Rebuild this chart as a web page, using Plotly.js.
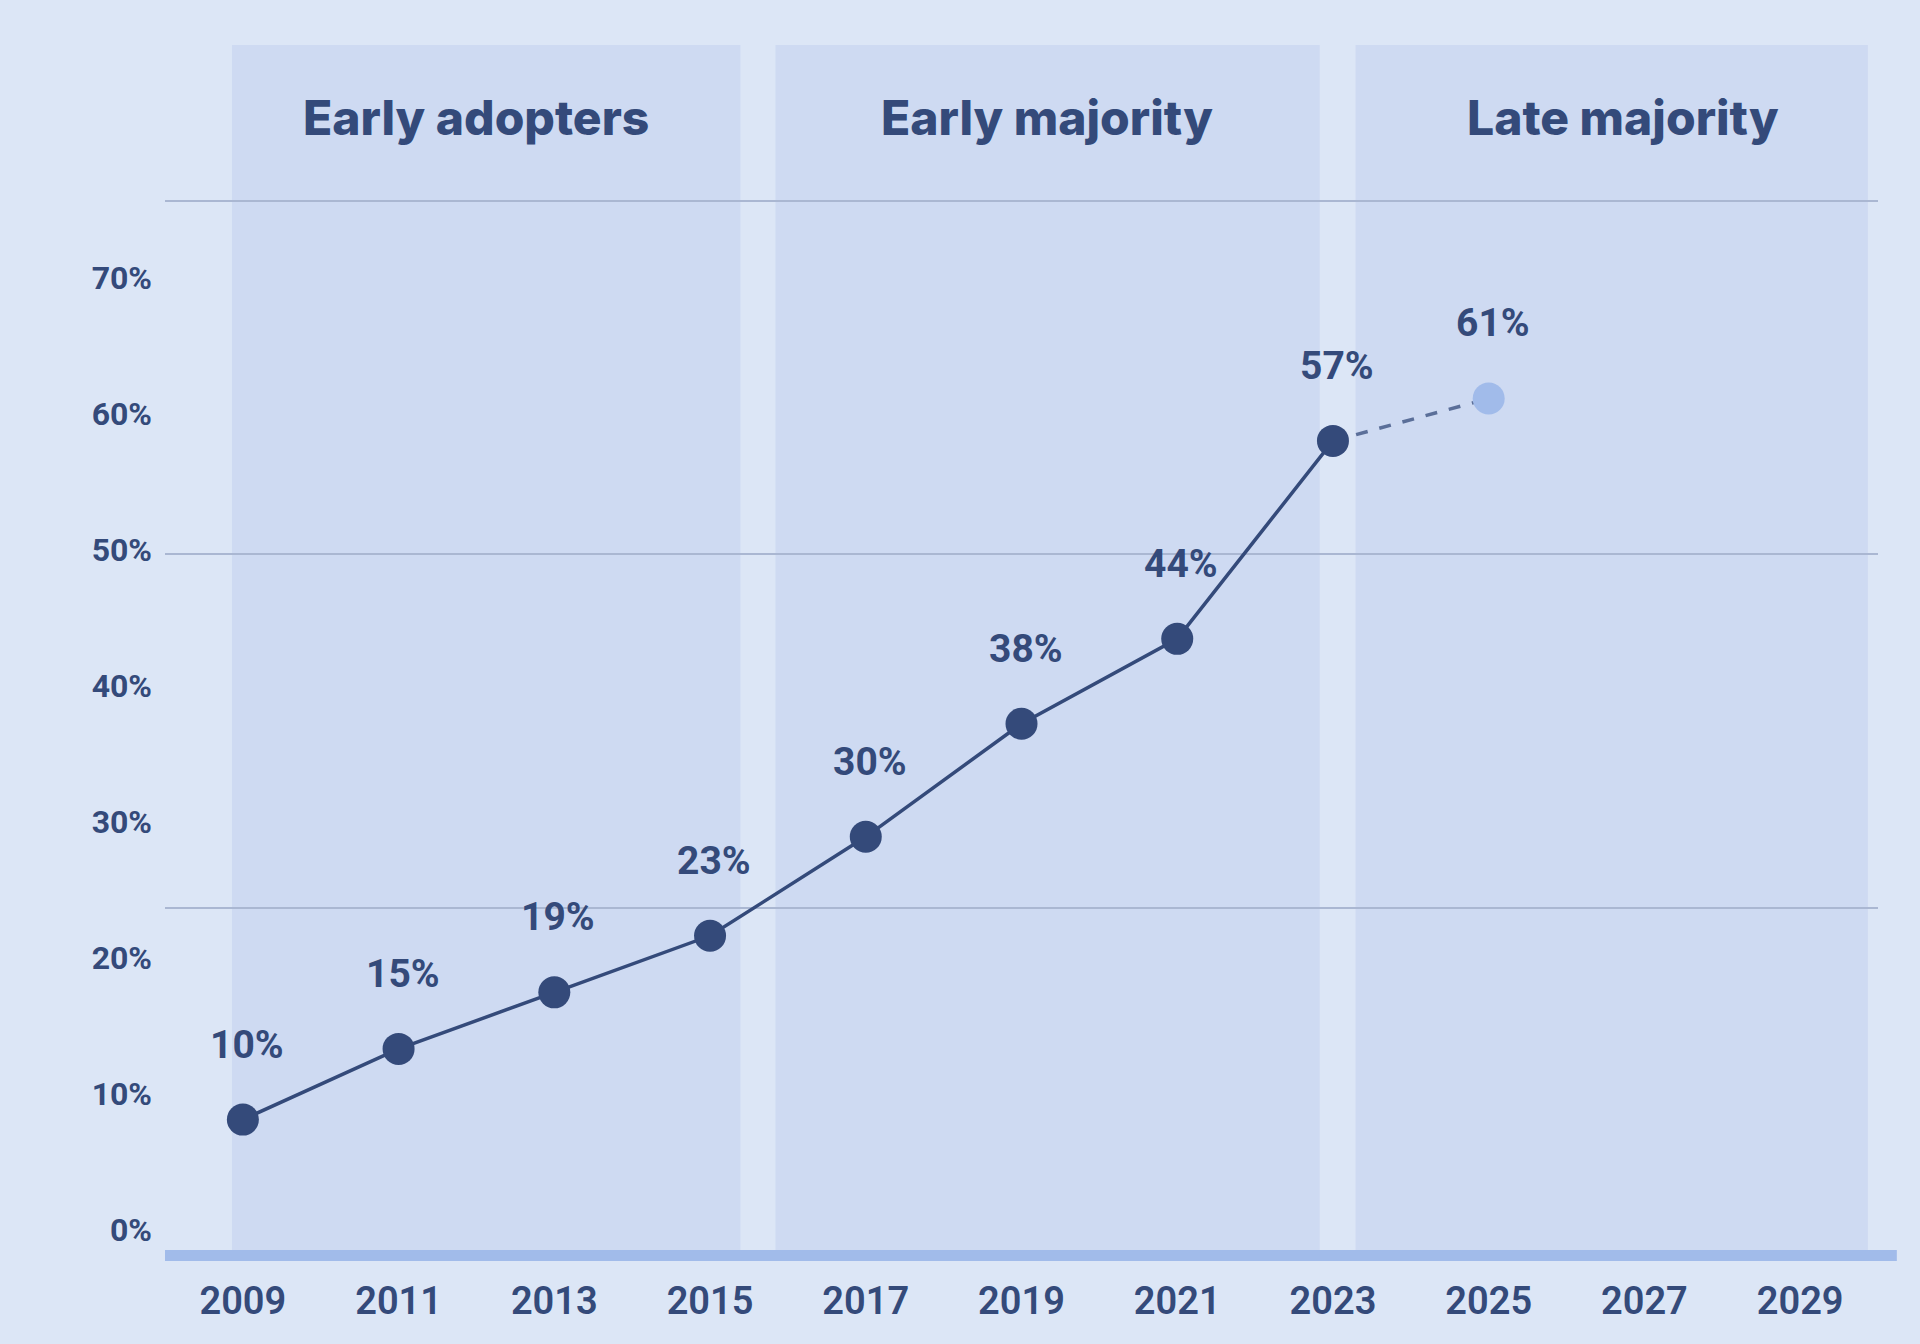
<!DOCTYPE html>
<html>
<head>
<meta charset="utf-8">
<script src="https://cdn.plot.ly/plotly-3.0.1.min.js"></script>
<style>
  html, body { margin: 0; padding: 0; background: #dce6f6; }
  #chart { width: 1920px; height: 1344px; }
</style>
</head>
<body>
<div id="chart"></div>
<script>
// ---- data ----
const years = [2009, 2011, 2013, 2015, 2017, 2019, 2021, 2023];
const adoption = [10, 15, 19, 23, 30, 38, 44, 58];
const adoptionLabels = ['10%', '15%', '19%', '23%', '30%', '38%', '44%', '57%'];
const forecastYears = [2023, 2025];
const forecast = [58, 61];
const forecastLabels = ['', '61%'];
const phaseNames = ['Early adopters', 'Early majority', 'Late majority'];
const phaseStart = [2008.86, 2015.84, 2023.29];
const phaseEnd = [2015.39, 2022.83, 2029.87];
const phaseLabelX = [2012, 2019.33, 2026.72];
const xTicks = [2009, 2011, 2013, 2015, 2017, 2019, 2021, 2023, 2025, 2027, 2029];
const yTickVals = [0, 10, 20, 30, 40, 50, 60, 70];
const yTickText = ['0%', '10%', '20%', '30%', '40%', '50%', '60%', '70%'];
const gridVals = [25, 50, 75];

// ---- styles ----
const NAVY = '#344a7a';
const LIGHT = '#a1bbea';
const BG = '#dce6f6';
const BAND = '#cedaf2';
const GRID = '#aab7d2';

const traces = [
  {
    x: forecastYears, y: forecast, type: 'scatter', mode: 'lines',
    line: { color: '#5b6f99', width: 3.5, dash: '12px,12px' },
    hoverinfo: 'skip'
  },
  {
    x: years, y: adoption, type: 'scatter', mode: 'lines+markers',
    line: { color: NAVY, width: 3.5 },
    marker: { color: NAVY, size: 32 },
    hoverinfo: 'skip'
  },
  {
    x: forecastYears.slice(1), y: forecast.slice(1), type: 'scatter', mode: 'markers',
    marker: { color: LIGHT, size: 32 },
    hoverinfo: 'skip'
  },
  {
    // empty trace so the percentage label axis is drawn
    x: [], y: [], type: 'scatter', mode: 'markers', yaxis: 'y2', hoverinfo: 'skip'
  }
];

const shapes = phaseNames.map((n, i) => ({
  type: 'rect', xref: 'x', yref: 'paper',
  x0: phaseStart[i], x1: phaseEnd[i], y0: 0, y1: 1,
  fillcolor: BAND, line: { width: 0 }, layer: 'below'
}));
shapes.push({
  type: 'rect', xref: 'paper', yref: 'y', ysizemode: 'pixel', yanchor: 0,
  x0: 0, x1: 1.011, y0: 0, y1: 11,
  fillcolor: LIGHT, line: { width: 0 }, layer: 'above'
});

const annotations = [];
phaseNames.forEach((n, i) => {
  annotations.push({
    x: phaseLabelX[i], y: 0.94, xref: 'x', yref: 'paper',
    text: n, showarrow: false, xanchor: 'center', yanchor: 'middle',
    font: { family: 'Inter, sans-serif', size: 48, color: NAVY, weight: 800 }
  });
});
const allX = years.concat(forecastYears.slice(1));
const allY = adoption.concat(forecast.slice(1));
const allLabels = adoptionLabels.concat(forecastLabels.slice(1));
allX.forEach((x, i) => {
  annotations.push({
    x: x, y: allY[i], xref: 'x', yref: 'y',
    text: allLabels[i], showarrow: false, xanchor: 'center', yanchor: 'middle',
    yshift: 75, xshift: 4,
    font: { family: 'Roboto, sans-serif', size: 39, color: NAVY, weight: 700 }
  });
});

const layout = {
  width: 1920, height: 1344,
  paper_bgcolor: BG, plot_bgcolor: BG,
  margin: { l: 165, r: 42, t: 45, b: 83 },
  showlegend: false,
  hovermode: false,
  xaxis: {
    range: [2008, 2030], tickvals: xTicks, ticktext: xTicks.map(String),
    showgrid: false, zeroline: false, showline: false, ticks: '',
    ticklabelstandoff: 14,
    tickfont: { family: 'Roboto, sans-serif', size: 38, color: NAVY, weight: 600 }
  },
  yaxis: {
    range: [0, 86], tickvals: gridVals, showticklabels: false,
    showgrid: true, gridcolor: GRID, gridwidth: 2,
    zeroline: false, showline: false, ticks: ''
  },
  yaxis2: {
    overlaying: 'y', side: 'left', range: [-2.28, 87.07],
    tickvals: yTickVals, ticktext: yTickText,
    showgrid: false, zeroline: false, showline: false, ticks: '',
    ticklabelstandoff: 12,
    tickfont: { family: 'Roboto, sans-serif', size: 32, color: NAVY, weight: 700 }
  },
  shapes: shapes,
  annotations: annotations
};

Plotly.newPlot('chart', traces, layout, { displayModeBar: false, staticPlot: true });
</script>
</body>
</html>
